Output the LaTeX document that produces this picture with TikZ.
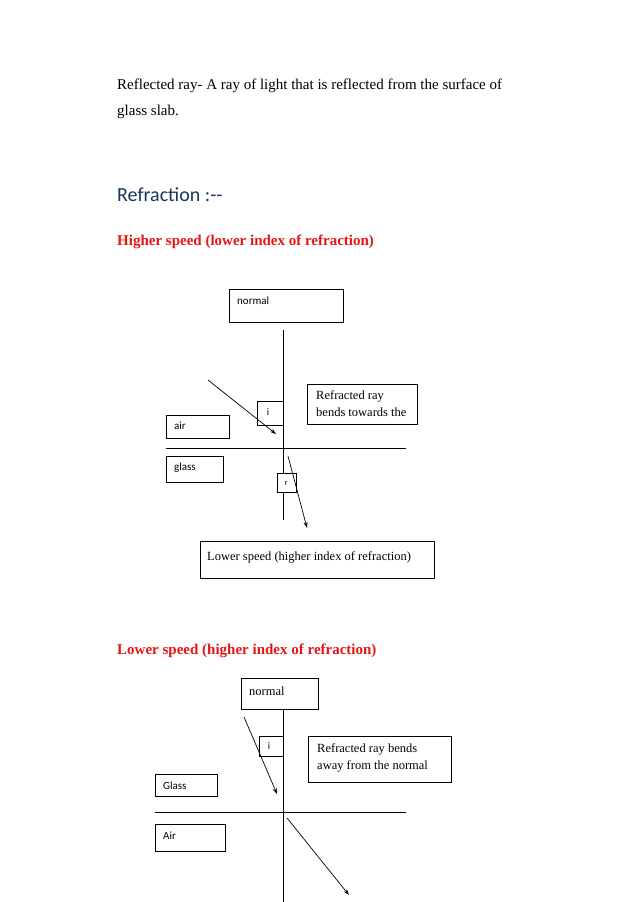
\documentclass[tikz,border=0pt]{standalone}
\usepackage{fontspec}
\setmainfont{Liberation Serif}
\newfontfamily\carl{Carlito}
\usetikzlibrary{arrows.meta}
\definecolor{navy}{RGB}{23,54,93}
\definecolor{hred}{RGB}{230,20,20}
\begin{document}
\begin{tikzpicture}[x=1pt,y=-1pt,
  bx/.style={draw,line width=0.6pt},
  lab/.style={anchor=west,inner sep=0pt},
  ray/.style={line width=0.7pt,-{Stealth[length=6pt,width=4pt]}},
  ln/.style={line width=0.7pt}]
\useasboundingbox (0,0) rectangle (638,902);
\node[lab,font=\fontsize{15}{18}\selectfont] (t1) at (117,86) {Reflected ray- A ray of light that is reflected from the surface of};
\node[lab,font=\fontsize{15}{18}\selectfont] (t2) at (117,112) {glass slab.};
\node[lab,font=\carl\fontsize{20}{24}\selectfont,text=navy] (t3) at (117,195) {Refraction :--};
\node[lab,font=\fontsize{15}{18}\selectfont\bfseries,text=hred] (t4) at (117,242) {Higher speed (lower index of refraction)};
\node[lab,font=\fontsize{15}{18}\selectfont\bfseries,text=hred] (t5) at (117,651) {Lower speed (higher index of refraction)};
% diagram 1
\draw[bx] (229,289) rectangle (343,322);
\node[lab,font=\carl\fontsize{11}{13}\selectfont] (n1) at (237,301) {normal};
\draw[ln] (283,330) coordinate (v1a) -- (283,520) coordinate (v1b);
\draw[bx] (257,401) rectangle (283,425);
\node[font=\carl\fontsize{10}{12}\selectfont] (i1) at (268,412) {i};
\draw[ray] (208,380) coordinate (a1) -- (276,434) coordinate (b1);
\draw[bx] (307,384) rectangle (417,424);
\node[lab,align=left,font=\fontsize{12.5}{17}\selectfont] (rf1) at (316,404) {Refracted ray\\bends towards the};
\draw[bx] (166,415) rectangle (229,438);
\node[lab,font=\carl\fontsize{11}{13}\selectfont] (air1) at (174,426) {air};
\draw[ln] (166,448) coordinate (h1a) -- (406,448) coordinate (h1b);
\draw[bx] (166,456) rectangle (223,482);
\node[lab,font=\carl\fontsize{11}{13}\selectfont] (gl1) at (174,468) {glass};
\draw[bx,fill=white] (277,473) rectangle (296,492);
\node[font=\carl\fontsize{8}{10}\selectfont] (r1) at (286,484) {r};
\draw[ray] (288,456) coordinate (c1) -- (307,528) coordinate (d1);
\draw[bx] (200,541) rectangle (434,578);
\node[lab,font=\fontsize{12.5}{15}\selectfont] (ls1) at (207,557) {Lower speed (higher index of refraction)};
% diagram 2
\draw[bx] (241,678) rectangle (318,709);
\node[lab,font=\fontsize{12.5}{15}\selectfont] (n2) at (249,691) {normal};
\draw[ln] (283,709) coordinate (v2a) -- (283,902) coordinate (v2b);
\draw[bx] (259,736) rectangle (283,756);
\node[font=\carl\fontsize{10}{12}\selectfont] (i2) at (269,746) {i};
\draw[ray] (244,717) coordinate (a2) -- (277,794) coordinate (b2);
\draw[bx] (308,736) rectangle (451,782);
\node[lab,align=left,font=\fontsize{12.5}{17}\selectfont] (rf2) at (317,758) {Refracted ray bends\\away from the normal};
\draw[bx] (155,774) rectangle (217,796);
\node[lab,font=\carl\fontsize{11}{13}\selectfont] (gl2) at (163,786) {Glass};
\draw[ln] (155,812) coordinate (h2a) -- (406,812) coordinate (h2b);
\draw[bx] (155,824) rectangle (225,851);
\node[lab,font=\carl\fontsize{11}{13}\selectfont] (air2) at (163,836) {Air};
\draw[ray] (287,818) coordinate (c2) -- (349,895) coordinate (d2);
\end{tikzpicture}
\end{document}
